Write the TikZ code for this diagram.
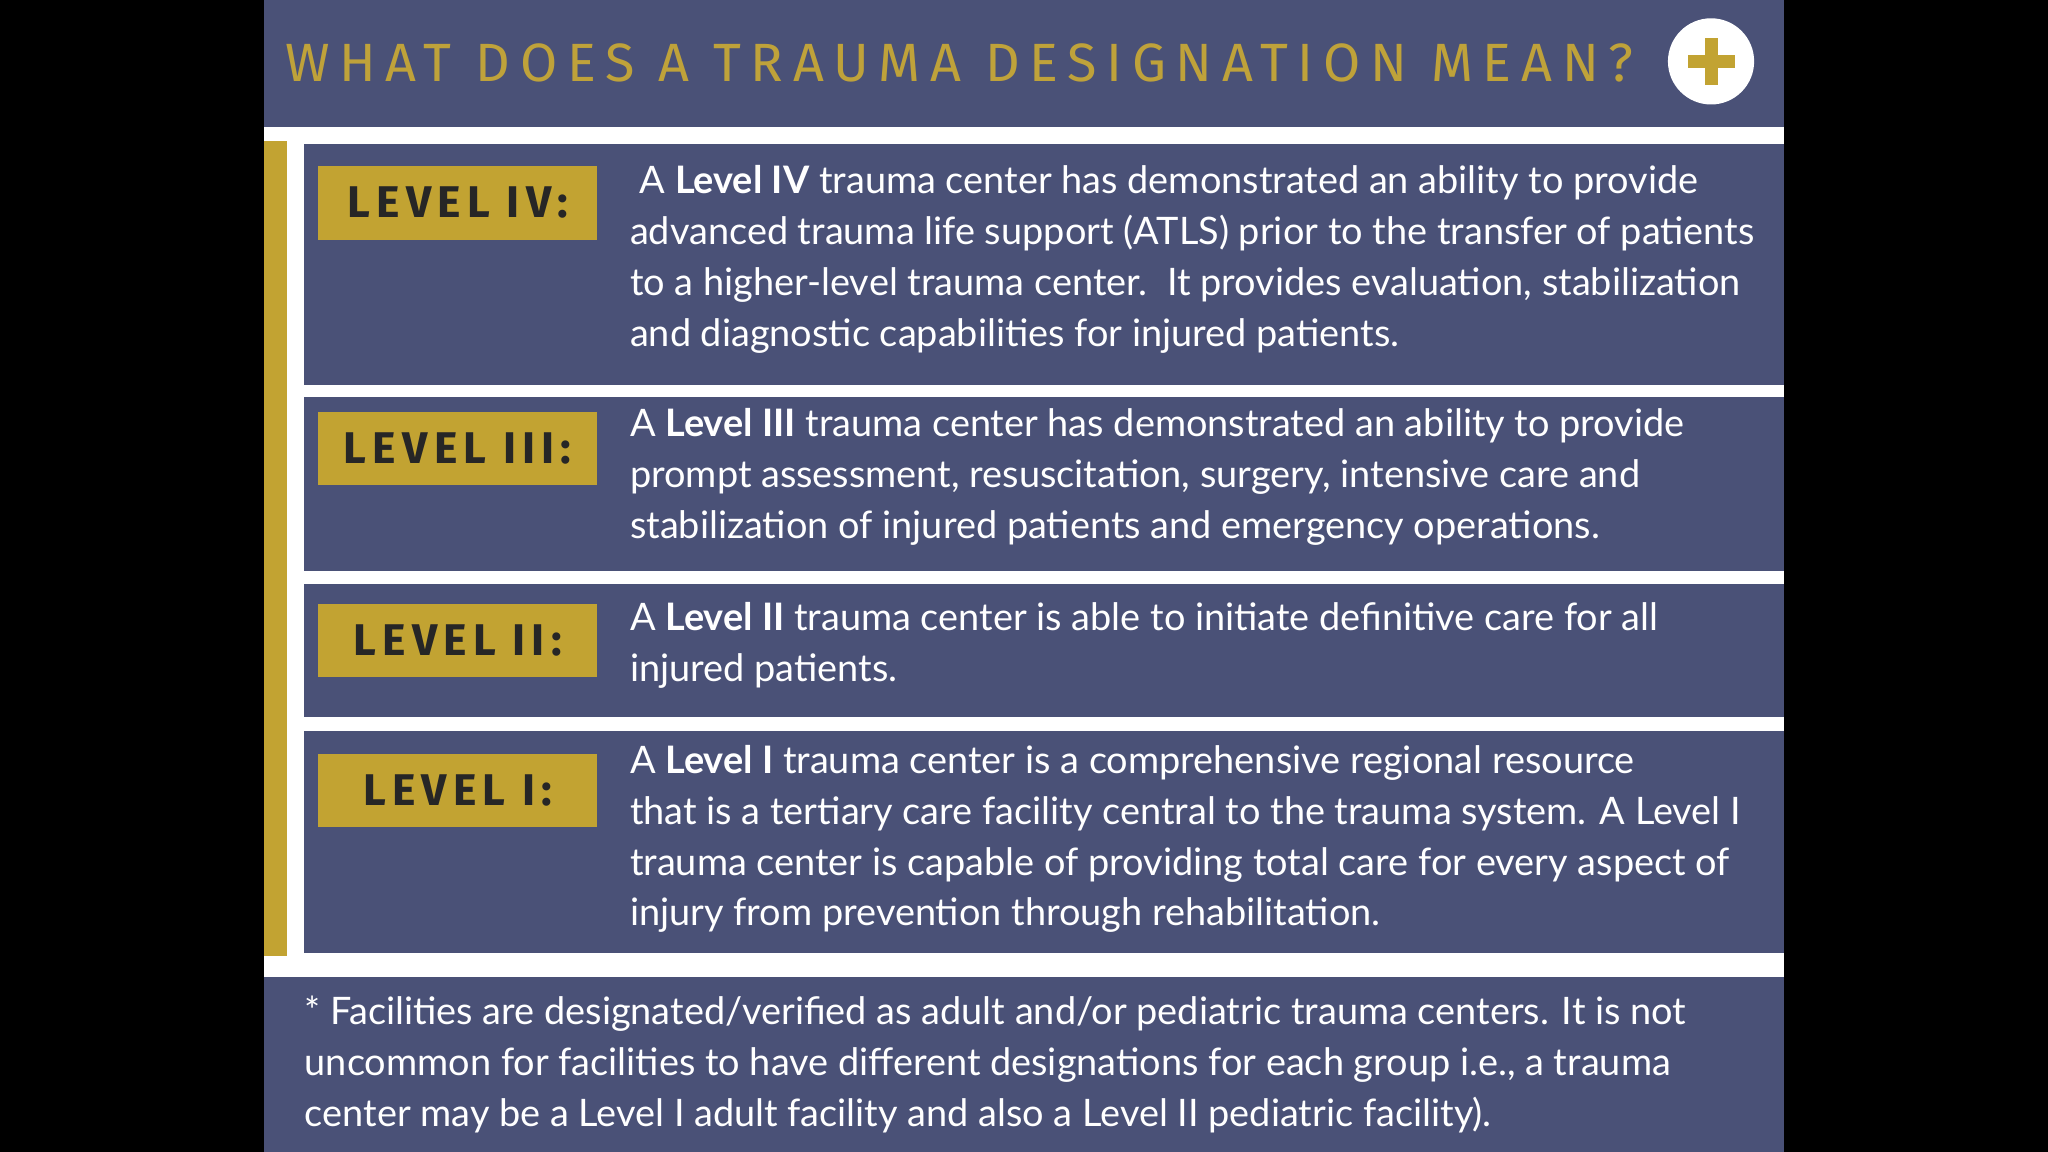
\documentclass[tikz,border=0pt]{standalone}
\usepackage{fontspec}
\setmainfont{Lato}
\newfontfamily\labfont[LetterSpace=14]{Fira Sans}
\newfontfamily\titfont[LetterSpace=18]{Fira Sans}
\definecolor{navy}{HTML}{4A5177}
\definecolor{gold}{HTML}{C2A332}
\definecolor{tgold}{HTML}{BFA23A}
\tikzset{
 lab/.style={fill=gold,anchor=north west,minimum width=107pt,minimum height=28pt,inner sep=0pt,text=black!85,font=\labfont\bfseries\fontsize{17}{17}\selectfont},
 body/.style={anchor=north west,align=left,inner sep=0pt,text=white,font=\fontsize{14.5}{19.5}\selectfont},
}
\begin{document}
\begin{tikzpicture}[x=0.5pt,y=-0.5pt]
\useasboundingbox (0,0) rectangle (1568,882);
\fill[black] (0,0) rectangle (1568,882);
\fill[white] (202,0) rectangle (1366,882);
\fill[navy] (202,0) rectangle (1366,97);
\fill[gold] (202,108) rectangle (220,732);
\fill[navy] (233,110) rectangle (1366,295);
\fill[navy] (233,304) rectangle (1366,437);
\fill[navy] (233,447) rectangle (1366,549);
\fill[navy] (233,560) rectangle (1366,730);
\fill[navy] (202,748) rectangle (1366,882);
\node[anchor=west,inner sep=0pt,text=tgold] (title) at (218,48) {\resizebox{516pt}{!}{\titfont WHAT DOES A TRAUMA DESIGNATION MEAN?}};
\node[circle,fill=white,minimum size=33pt,inner sep=0pt] (plus) at (1310,47) {};
\fill[gold] (1310,47) +(-5,-18) rectangle +(5,18);
\fill[gold] (1310,47) +(-18,-5) rectangle +(18,5);
\node[lab] (l4) at (243,127) {LEVEL IV:};
\node[lab] (l3) at (243,315) {LEVEL III:};
\node[lab] (l2) at (243,462) {LEVEL II:};
\node[lab] (l1) at (243,577) {LEVEL I:};
\node[body] (t4) at (482,126) {\ A \textbf{Level IV} trauma center has demonstrated an ability to provide\\advanced trauma life support (ATLS) prior to the transfer of patients\\to a higher-level trauma center.\ \ It provides evaluation, stabilization\\and diagnostic capabilities for injured patients.};
\node[body] (t3) at (482,312) {A \textbf{Level III} trauma center has demonstrated an ability to provide\\prompt assessment, resuscitation, surgery, intensive care and\\stabilization of injured patients and emergency operations.};
\node[body] (t2) at (482,461) {A \textbf{Level II} trauma center is able to initiate definitive care for all\\injured patients.};
\node[body] (t1) at (482,570) {A \textbf{Level I} trauma center is a comprehensive regional resource\\that is a tertiary care facility central to the trauma system. A Level I\\trauma center is capable of providing total care for every aspect of\\injury from prevention through rehabilitation.};
\node[body] (fn) at (233,762) {* Facilities are designated/verified as adult and/or pediatric trauma centers. It is not\\uncommon for facilities to have different designations for each group i.e., a trauma\\center may be a Level I adult facility and also a Level II pediatric facility).};
\end{tikzpicture}
\end{document}
